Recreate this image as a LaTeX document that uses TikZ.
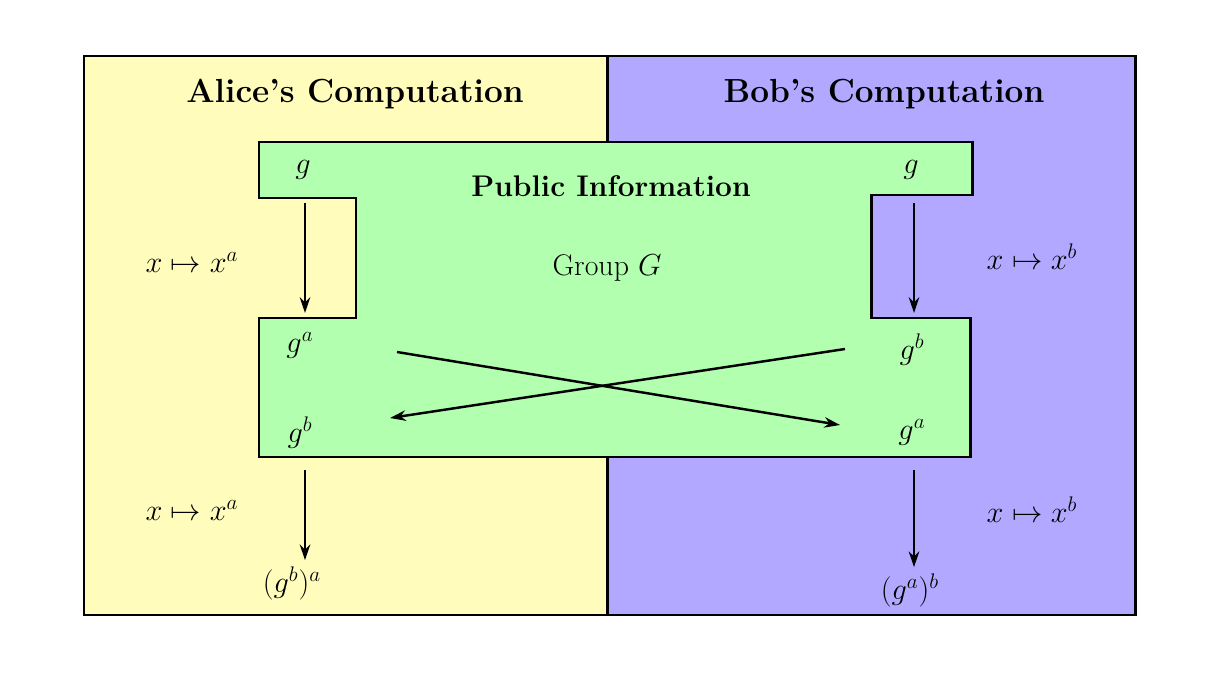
\documentclass[tikz,border=0pt]{standalone}
\usetikzlibrary{arrows.meta}
\definecolor{aliceY}{HTML}{FFFCBC}
\definecolor{bobP}{HTML}{B3A8FF}
\definecolor{pubG}{HTML}{B3FFB0}
\begin{document}
\begin{tikzpicture}[x=0.02cm,y=-0.02cm,
  box/.style={line width=1.7pt},
  lab/.style={font=\fontsize{17}{20}\selectfont},
  head/.style={font=\fontsize{19}{22}\selectfont\bfseries},
  arr/.style={line width=1.4pt,-{Stealth[length=9pt,width=6pt]}}]
\useasboundingbox (0,0) rectangle (1210,686);
\fill[aliceY] (84,56) rectangle (607,615);
\fill[bobP] (607,56) rectangle (1135,615);
\draw[box] (84,56) rectangle (1135,615);
\draw[box] (607,56) -- (607,142) (607,457) -- (607,615);
\draw[box,fill=pubG] (259,142) -- (972,142) -- (972,195) -- (871,195) -- (871,318) -- (970,318) -- (970,457) -- (259,457) -- (259,318) -- (356,318) -- (356,198) -- (259,198) -- cycle;
\node[head] (ha) at (355,94) {Alice's Computation};
\node[head] (hb) at (884,94) {Bob's Computation};
\node[head,font=\fontsize{17}{20}\selectfont\bfseries] (pi) at (611,186) {Public Information};
\node[lab] (gg) at (607,268) {Group $G$};
\node[lab] (g1) at (303,170) {$g$};
\node[lab] (g2) at (911,170) {$g$};
\node[lab] (ga1) at (300,345) {$g^a$};
\node[lab] (gb1) at (300,433) {$g^b$};
\node[lab] (gb2) at (912,350) {$g^b$};
\node[lab] (ga2) at (912,432) {$g^a$};
\node[lab] (r1) at (292,583) {$(g^b)^a$};
\node[lab] (r2) at (910,590) {$(g^a)^b$};
\node[lab] (m1) at (192,262) {$x\mapsto x^a$};
\node[lab] (m2) at (192,510) {$x\mapsto x^a$};
\node[lab] (m3) at (1032,257) {$x\mapsto x^b$};
\node[lab] (m4) at (1032,510) {$x\mapsto x^b$};
\coordinate (c1) at (397,352); \coordinate (c2) at (840,425);
\coordinate (c3) at (845,349); \coordinate (c4) at (390,418);
\coordinate (t1) at (305,470); \coordinate (t2) at (914,470);
\draw[arr] (305,203) -- (305,313);
\draw[arr] (914,203) -- (914,313);
\draw[arr] (c1) -- (c2);
\draw[arr] (c3) -- (c4);
\draw[arr] (t1) -- (r1.north -| t1);
\draw[arr] (t2) -- (r2.north -| t2);
\end{tikzpicture}
\end{document}
